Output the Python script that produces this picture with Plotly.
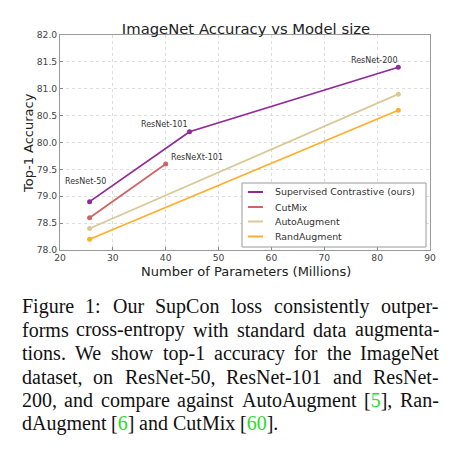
import plotly.graph_objects as go

# data
series_names = ["Supervised Contrastive (ours)", "CutMix", "AutoAugment", "RandAugment"]
series_colors = ["#8e2b97", "#cf6468", "#d9c997", "#ffae2a"]
supcon_x = [25.6, 44.5, 84.0]
supcon_y = [78.9, 80.2, 81.4]
cutmix_x = [25.6, 40.0]
cutmix_y = [78.6, 79.6]
autoaug_x = [25.6, 84.0]
autoaug_y = [78.4, 80.9]
randaug_x = [25.6, 84.0]
randaug_y = [78.2, 80.6]

model_labels = ["ResNet-50", "ResNet-101", "ResNeXt-101", "ResNet-200"]
label_x = [20.6, 35.0, 40.6, 74.6]
label_y = [79.27, 80.33, 79.73, 81.52]

x_ticks = [20, 30, 40, 50, 60, 70, 80, 90]
y_ticks = [78.0, 78.5, 79.0, 79.5, 80.0, 80.5, 81.0, 81.5, 82.0]

caption_lines = [
    "Figure 1: Our SupCon loss consistently outper-",
    "forms cross-entropy with standard data augmenta-",
    "tions. We show top-1 accuracy for the ImageNet",
    "dataset, on ResNet-50, ResNet-101 and ResNet-",
    "200, and compare against AutoAugment [5], Ran-",
    "dAugment [6] and CutMix [60].",
]
cite_numbers = ["5", "6", "60"]

# the page body adds an 8px margin, so reference pixels are shifted by OFF
OFF = 8
W, H = 467 - OFF, 465 - OFF
L, R, T, B = 60 - OFF, 430 - OFF, 35 - OFF, 250 - OFF   # plot area in pixels


def px_x(px):
    return (px - OFF - L) / (R - L)


def px_y(py):
    return (B - (py - OFF)) / (B - T)


# Times-Roman advance widths (1/1000 em), used to justify the caption
TIMES = dict(zip("abcdefghijklmnopqrstuvwxyz",
                 [444, 500, 444, 500, 444, 333, 500, 500, 278, 278, 500, 278, 778,
                  500, 500, 500, 500, 333, 389, 278, 500, 500, 722, 500, 500, 444]))
TIMES.update(dict(zip("ABCDEFGHIJKLMNOPQRSTUVWXYZ",
                      [722, 667, 667, 722, 611, 556, 722, 722, 333, 389, 722, 611, 889,
                       722, 722, 556, 722, 667, 556, 611, 722, 722, 944, 722, 722, 611])))
TIMES.update({c: 500 for c in "0123456789"})
TIMES.update({"-": 333, ":": 278, ",": 250, ".": 250, "[": 333, "]": 333, " ": 250})


def word_width(w, size):
    return sum(TIMES.get(c, 500) for c in w) * size / 1000


fig = go.Figure()
xs = [supcon_x, cutmix_x, autoaug_x, randaug_x]
ys = [supcon_y, cutmix_y, autoaug_y, randaug_y]
for name, col, x, y in zip(series_names, series_colors, xs, ys):
    fig.add_trace(go.Scatter(
        x=x, y=y, mode="lines+markers", name=name, showlegend=False,
        line=dict(color=col, width=1.8),
        marker=dict(color=col, size=5),
    ))

annotations = []
shapes = []
for txt, x, y in zip(model_labels, label_x, label_y):
    annotations.append(dict(text=txt, x=x, y=y, xref="x", yref="y", showarrow=False,
                            xanchor="left", yanchor="middle",
                            font=dict(family="DejaVu Sans", size=8, color="#333")))

annotations.append(dict(text="Number of Parameters (Millions)", x=px_x(246), y=px_y(271),
                        xref="paper", yref="paper", showarrow=False,
                        xanchor="center", yanchor="middle",
                        font=dict(family="DejaVu Sans", size=13, color="#222")))
annotations.append(dict(text="Top-1 Accuracy", x=px_x(28), y=px_y(143), textangle=-90,
                        xref="paper", yref="paper", showarrow=False,
                        xanchor="center", yanchor="middle",
                        font=dict(family="DejaVu Sans", size=13, color="#222")))

# legend drawn by hand (plotly's minimum row height is too tall here)
shapes.append(dict(type="rect", xref="paper", yref="paper", x0=px_x(242), x1=px_x(426),
                   y0=px_y(247), y1=px_y(183), line=dict(color="#999", width=1),
                   fillcolor="white", layer="above"))
leg_rows = [192, 207, 221.5, 236.5]
for name, col, py in zip(series_names, series_colors, leg_rows):
    shapes.append(dict(type="line", xref="paper", yref="paper", x0=px_x(248), x1=px_x(263),
                       y0=px_y(py), y1=px_y(py), line=dict(color=col, width=2), layer="above"))
    annotations.append(dict(text=name, x=px_x(273), y=px_y(py), xref="paper", yref="paper",
                            showarrow=False, xanchor="left", yanchor="middle",
                            font=dict(family="DejaVu Sans", size=9.4, color="#333")))

# caption, justified word by word between the reference margins
CAP_SIZE = 20
cap_left, cap_right = 19.5, 437
line_y = [306, 329.5, 353, 376.5, 400, 423]
for i, (txt, py) in enumerate(zip(caption_lines, line_y)):
    words = txt.split(" ")
    widths = [word_width(w, CAP_SIZE) for w in words]
    last = i == len(caption_lines) - 1
    if last:
        gap = TIMES[" "] * CAP_SIZE / 1000
    else:
        gap = (cap_right - cap_left - sum(widths)) / (len(words) - 1)
    x = cap_left
    for w, ww in zip(words, widths):
        shown = w
        for n in cite_numbers:
            shown = shown.replace("[" + n + "]",
                                  "[<span style='color:#2bd92b'>" + n + "</span>]")
        annotations.append(dict(text=shown, x=px_x(x), y=px_y(py), xref="paper", yref="paper",
                                showarrow=False, xanchor="left", yanchor="middle",
                                font=dict(family="Liberation Serif", size=CAP_SIZE,
                                          color="#111")))
        x += ww + gap

axis_common = dict(ticks="inside", ticklen=3, tickcolor="#888", showline=True, mirror=True,
                   linecolor="#999", gridcolor="#dddddd", griddash="dot", zeroline=False,
                   tickfont=dict(family="DejaVu Sans", size=9.2, color="#444"))

fig.update_layout(
    width=W, height=H,
    margin=dict(l=L, r=W - R, t=T, b=H - B, pad=0),
    paper_bgcolor="white", plot_bgcolor="white",
    title=dict(text="ImageNet Accuracy vs Model size", x=px_x(246), xref="paper",
               y=1 - (29 - OFF) / H, yref="container", xanchor="center", yanchor="middle",
               font=dict(family="DejaVu Sans", size=14.8, color="#222")),
    xaxis=dict(range=[20, 90], tickvals=x_ticks, ticklabelstandoff=-1, **axis_common),
    yaxis=dict(range=[78, 82], tickvals=y_ticks, tickformat=".1f", **axis_common),
    showlegend=False,
    annotations=annotations,
    shapes=shapes,
)

fig.write_html("out.html")
